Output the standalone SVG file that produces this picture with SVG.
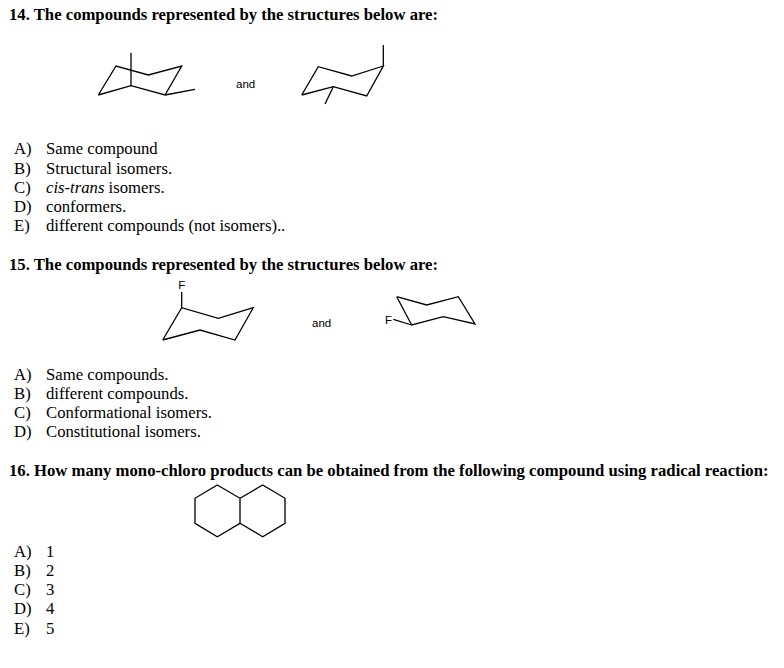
<svg xmlns="http://www.w3.org/2000/svg" width="784" height="668" viewBox="0 0 784 668">
<style>
.q{font-family:"Liberation Serif",serif;font-weight:bold;font-size:16.7px}
.a{font-family:"Liberation Serif",serif;font-size:16.7px}
.s{font-family:"Liberation Sans",sans-serif;font-size:11.5px}
.b{fill:none;stroke:#000;stroke-width:1.3;stroke-linejoin:miter}
</style>
<rect width="784" height="668" fill="#fff"/>
<text class="q" x="9" y="20">14. The compounds represented by the structures below are:</text>
<g id="m1"><polyline class="b" points="98.3,95 116,66 148.3,75 181.7,66 165,95 131,85.7 98.3,95"/><line class="b" x1="131" y1="52.7" x2="131" y2="85.7"/><line class="b" x1="165" y1="95" x2="195" y2="89.3"/></g>
<text class="s" x="236" y="88">and</text>
<g id="m2"><polyline class="b" points="301.7,95 318.3,66.7 351.7,76 383.3,66 366.7,96 333.3,86.7 301.7,95"/><line class="b" x1="383.3" y1="45" x2="383.3" y2="66"/><line class="b" x1="333.3" y1="86.7" x2="325" y2="104"/></g>
<g class="a"><text x="14" y="154">A)</text><text x="46" y="154">Same compound</text>
<text x="14" y="174">B)</text><text x="46" y="174">Structural isomers.</text>
<text x="14" y="193">C)</text><text x="46" y="193"><tspan font-style="italic">cis-trans</tspan> isomers.</text>
<text x="14" y="212">D)</text><text x="46" y="212">conformers.</text>
<text x="14" y="231">E)</text><text x="46" y="231">different compounds (not isomers)..</text></g>
<text class="q" x="9" y="270">15. The compounds represented by the structures below are:</text>
<g id="m3"><text class="s" x="181.7" y="289" text-anchor="middle">F</text><polyline class="b" points="162.7,340 181.7,307.7 218.3,318.3 253.3,307.7 235,340 200,330 162.7,340"/><line class="b" x1="181.7" y1="292" x2="181.7" y2="307.7"/></g>
<text class="s" x="312" y="327">and</text>
<g id="m4"><text class="s" x="392" y="324" text-anchor="end">F</text><polyline class="b" points="396.7,296.7 426.7,305 458.3,296.7 475,324 443.3,316.7 411.7,325 396.7,296.7"/><line class="b" x1="393.3" y1="319.3" x2="411.7" y2="325"/></g>
<g class="a"><text x="14" y="380">A)</text><text x="46" y="380">Same compounds.</text>
<text x="14" y="399">B)</text><text x="46" y="399">different compounds.</text>
<text x="14" y="418">C)</text><text x="46" y="418">Conformational isomers.</text>
<text x="14" y="437">D)</text><text x="46" y="437">Constitutional isomers.</text></g>
<text class="q" x="9" y="476">16. How many mono-chloro products can be obtained from the following compound using radical reaction:</text>
<g id="m5"><polygon class="b" points="217.3,485 240,498.3 240,523.3 217.3,536.7 195,523.3 195,498.3"/><polyline class="b" points="240,498.3 262.7,485 285,498.3 285,523.3 262.7,536.7 240,523.3"/></g>
<g class="a"><text x="14" y="557">A)</text><text x="46" y="557">1</text>
<text x="14" y="576">B)</text><text x="46" y="576">2</text>
<text x="14" y="595">C)</text><text x="46" y="595">3</text>
<text x="14" y="614">D)</text><text x="46" y="614">4</text>
<text x="14" y="634">E)</text><text x="46" y="634">5</text></g>
</svg>
